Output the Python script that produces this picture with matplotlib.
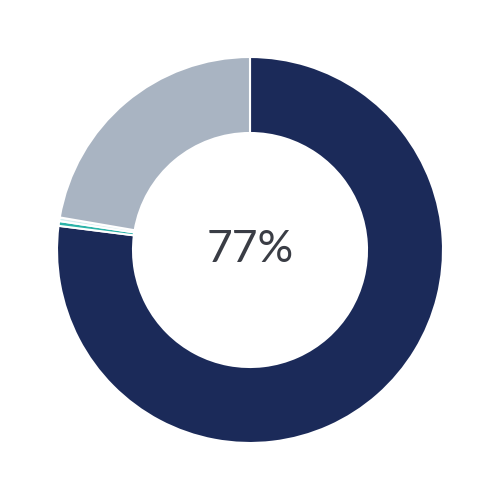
import matplotlib.pyplot as plt

labels = ["A", "B", "C", "D"]
values = [77.0, 0.4, 0.3, 22.3]
colors = ["#1b2a59", "#2bb3a8", "#d6eef0", "#a9b4c2"]

fig = plt.figure(figsize=(5, 5), dpi=100)
ax = fig.add_axes([0, 0, 1, 1])
ax.pie(values, colors=colors, startangle=90, counterclock=False, radius=0.772,
       wedgeprops=dict(width=0.304, edgecolor="white", linewidth=1.5))
ax.set_xlim(-1, 1); ax.set_ylim(-1, 1); ax.set_aspect("equal"); ax.axis("off")
ax.text(0, 0, "77%", ha="center", va="center", fontsize=32, color="#3a3d45", family="Lato")
fig.savefig("out.png", dpi=100)
